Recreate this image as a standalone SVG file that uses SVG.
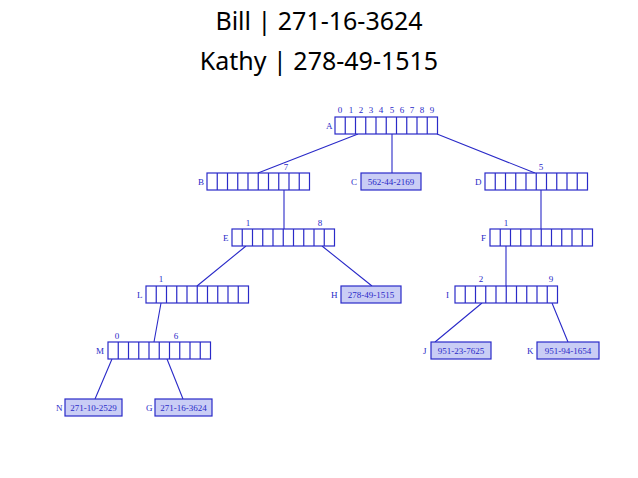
<svg xmlns="http://www.w3.org/2000/svg" width="638" height="478" viewBox="0 0 638 478">
<style>
.t{font-family:"Noto Sans","Open Sans",sans-serif;font-size:25px;fill:#000}
.arr{fill:#fff;stroke:#2a2ac8;stroke-width:1.2}
.cells{fill:none;stroke:#2a2ac8;stroke-width:1.2}
.leaf{fill:#c9cdf5;stroke:#2a2ac8;stroke-width:1.2}
.l{font-family:"Liberation Serif",serif;font-size:9px;fill:#2a2ac8}
.n{font-family:"Liberation Serif",serif;font-size:9px;fill:#2a2ac8;text-anchor:middle}
.e{stroke:#2a2ac8;stroke-width:1.1;fill:none}
</style>
<defs>
<path id="cv" d="M10.25,0v17m10.25,-17v17m10.25,-17v17m10.25,-17v17m10.25,-17v17m10.25,-17v17m10.25,-17v17m10.25,-17v17m10.25,-17v17"/>
</defs>
<text class="t" x="319" y="30" text-anchor="middle">Bill | 271-16-3624</text>
<text class="t" x="319" y="70" text-anchor="middle">Kathy | 278-49-1515</text>
<g id="connectors">
<path class="e" d="M358,134L258,173M392,134V173M437,134L535,173M284,190V229M541,190V229M246,246L197,286M322,246L372,286M506,246V286M161,303L154,342M482,303L435,342M552,303L568,342M112,359L95,399M167,359L183,399"/>
</g>
<g id="A"><text class="l" x="326" y="129">A</text><rect class="arr" x="335" y="117" width="102.5" height="17"/><use href="#cv" x="335" y="117" class="cells"/>
<text class="n" y="113"><tspan x="340">0</tspan><tspan x="351">1</tspan><tspan x="361">2</tspan><tspan x="371">3</tspan><tspan x="381">4</tspan><tspan x="392">5</tspan><tspan x="402">6</tspan><tspan x="412">7</tspan><tspan x="422">8</tspan><tspan x="432">9</tspan></text></g>
<g id="B"><text class="l" x="198" y="185">B</text><rect class="arr" x="207" y="173" width="102.5" height="17"/><use href="#cv" x="207" y="173" class="cells"/><text class="n" x="286" y="170">7</text></g>
<g id="C"><text class="l" x="351" y="185">C</text><rect class="leaf" x="361" y="173" width="60" height="17"/><text class="n" x="391" y="185">562-44-2169</text></g>
<g id="D"><text class="l" x="475" y="185">D</text><rect class="arr" x="485" y="173" width="102.5" height="17"/><use href="#cv" x="485" y="173" class="cells"/><text class="n" x="541" y="170">5</text></g>
<g id="E"><text class="l" x="223" y="241">E</text><rect class="arr" x="232" y="229" width="102.5" height="17"/><use href="#cv" x="232" y="229" class="cells"/><text class="n" x="248" y="226">1</text><text class="n" x="320" y="226">8</text></g>
<g id="F"><text class="l" x="481" y="241">F</text><rect class="arr" x="490" y="229" width="102.5" height="17"/><use href="#cv" x="490" y="229" class="cells"/><text class="n" x="506" y="226">1</text></g>
<g id="L"><text class="l" x="137" y="298">L</text><rect class="arr" x="146" y="286" width="102.5" height="17"/><use href="#cv" x="146" y="286" class="cells"/><text class="n" x="161" y="282">1</text></g>
<g id="H"><text class="l" x="331" y="298">H</text><rect class="leaf" x="341" y="286" width="60" height="17"/><text class="n" x="371" y="298">278-49-1515</text></g>
<g id="I"><text class="l" x="446" y="298">I</text><rect class="arr" x="455" y="286" width="102.5" height="17"/><use href="#cv" x="455" y="286" class="cells"/><text class="n" x="481" y="282">2</text><text class="n" x="551" y="282">9</text></g>
<g id="M"><text class="l" x="96" y="354">M</text><rect class="arr" x="108" y="342" width="102.5" height="17"/><use href="#cv" x="108" y="342" class="cells"/><text class="n" x="117" y="339">0</text><text class="n" x="176" y="339">6</text></g>
<g id="J"><text class="l" x="423" y="354">J</text><rect class="leaf" x="431" y="342" width="60" height="17"/><text class="n" x="461" y="354">951-23-7625</text></g>
<g id="K"><text class="l" x="527" y="354">K</text><rect class="leaf" x="537" y="342" width="62" height="17"/><text class="n" x="568" y="354">951-94-1654</text></g>
<g id="N"><text class="l" x="56" y="411">N</text><rect class="leaf" x="65" y="399" width="57" height="17"/><text class="n" x="93.5" y="411">271-10-2529</text></g>
<g id="G"><text class="l" x="146" y="411">G</text><rect class="leaf" x="155" y="399" width="57" height="17"/><text class="n" x="183.5" y="411">271-16-3624</text></g>
</svg>
